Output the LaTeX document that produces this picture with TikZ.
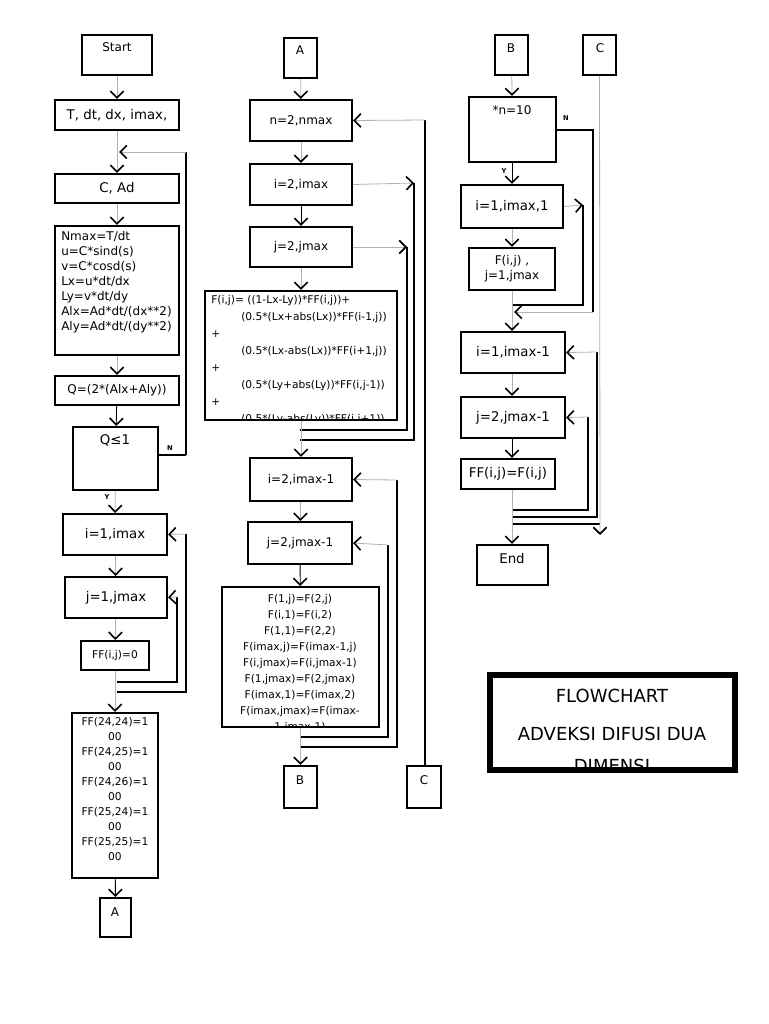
\documentclass[tikz,border=0pt]{standalone}
\usepackage{fontspec}
\setmainfont{DejaVu Sans}
\usetikzlibrary{arrows.meta,fit}
\begin{document}
\begin{tikzpicture}[x=0.75pt,y=-0.75pt,
  box/.style={draw,line width=1.6pt,inner sep=0pt},
  txt/.style={font=\fontsize{8}{11.25}\selectfont,inner sep=0pt},
  t9/.style={txt,font=\fontsize{9}{11.25}\selectfont},
  t10/.style={txt,font=\fontsize{10}{12}\selectfont},
  conn/.style={draw=gray!60,line width=0.6pt},
  ln/.style={draw=black,line width=0.8pt},
  arr/.style={conn,-{Straight Barb[length=5pt,width=10pt,line width=1.2pt,color=black]}},
  lab/.style={font=\fontsize{5}{6}\selectfont\bfseries,inner sep=0pt}]
\newcommand\bx[5]{\node[box,fit={(#2,#3)(#4,#5)}] (#1) {};}
\useasboundingbox (0,0) rectangle (768,1024);
% ---------- column 1
\bx{start}{82}{35}{152}{75} \node[t9] at (117,47) {Start};
\bx{T}{55}{100}{179}{130} \node[t10] at (T) {T, dt, dx, imax,};
\bx{C}{55}{174}{179}{203} \node[t10] at (C) {C, Ad};
\bx{N}{55}{226}{179}{355}
\node[t9,anchor=north west,align=left] at (61,231) {Nmax=T/dt\\u=C*sind(s)\\v=C*cosd(s)\\Lx=u*dt/dx\\Ly=v*dt/dy\\Alx=Ad*dt/(dx**2)\\Aly=Ad*dt/(dy**2)};
\bx{Q}{55}{376}{179}{405} \node[t9] at (Q) {Q=(2*(Alx+Aly))};
\bx{Qd}{73}{427}{158}{490} \node[t10] at (115,440) {Q≤1};
\bx{i1}{63}{514}{167}{555} \node[t10] at (i1) {i=1,imax};
\bx{j1}{65}{577}{167}{618} \node[t10] at (j1) {j=1,jmax};
\bx{ff0}{81}{641}{149}{670} \node[txt] at (ff0) {FF(i,j)=0};
\bx{ffs}{72}{713}{158}{878}
\node[txt,align=center,anchor=north] at (115,717) {FF(24,24)=1\\00\\FF(24,25)=1\\00\\FF(24,26)=1\\00\\FF(25,24)=1\\00\\FF(25,25)=1\\00};
\bx{A1}{100}{898}{131}{937} \node[t9] at (115,912) {A};
\draw[arr] (start) -- (T);
\coordinate (m1) at (117,152);
\draw[arr] (T) -- (C);
\coordinate (n1) at (186,455); \coordinate (n2) at (186,152);
\draw[ln] (Qd.east|-n1) -- (n1); \draw[ln] (n1) -- (n2);
\draw[arr] (n2) -- ([xshift=1.5pt]m1);
\node[lab] at (170,448) {N};
\draw[arr] (C) -- (N); \draw[arr] (N) -- (Q); \draw[arr,draw=black] (Q) -- (Qd);
\draw[arr] (Qd) -- (i1); \node[lab] at (107,497) {Y};
\draw[arr] (i1) -- (j1); \draw[arr] (j1) -- (ff0);
\coordinate (p1) at (177,682); \coordinate (p2) at (186,692);
\draw[conn] (ff0.south) -- (ffs.north);
\draw[ln] (117,682) -- (p1) -- (177,597); \draw[arr] (177,597) -- (j1.east);
\draw[ln] (117,692) -- (p2) -- (186,534); \draw[arr] (186,534) -- (i1.east);
\draw[arr] (ffs.south|-687,700) -- (ffs.north);
\draw[arr,draw=black] (ffs) -- (A1);
% ---------- column 2
\bx{A2}{284}{38}{317}{78} \node[t9] at (300,50) {A};
\bx{n}{250}{100}{352}{141} \node[t9] at (n) {n=2,nmax};
\bx{i2}{250}{164}{352}{205} \node[t9] at (i2) {i=2,imax};
\bx{j2}{250}{227}{352}{267} \node[t9] at (j2) {j=2,jmax};
\bx{F}{205}{291}{397}{420}
\begin{scope}
\clip (207,293) rectangle (395,418);
\node[txt,anchor=north west,align=left,font=\fontsize{8}{12.75}\selectfont] at (211,295)
 {F(i,j)= ((1-Lx-Ly))*FF(i,j))+\\\hspace*{22.5pt}(0.5*(Lx+abs(Lx))*FF(i-1,j))\\+\\\hspace*{22.5pt}(0.5*(Lx-abs(Lx))*FF(i+1,j))\\+\\\hspace*{22.5pt}(0.5*(Ly+abs(Ly))*FF(i,j-1))\\+\\\hspace*{22.5pt}(0.5*(Ly-abs(Ly))*FF(i,j+1))};
\end{scope}
\bx{i3}{250}{458}{352}{501} \node[t9] at (i3) {i=2,imax-1};
\bx{j3}{248}{522}{352}{564} \node[t9] at (j3) {j=2,jmax-1};
\bx{G}{222}{587}{379}{727}
\begin{scope}
\clip (224,589) rectangle (377,725);
\node[txt,align=center,anchor=north,font=\fontsize{8}{12}\selectfont] at (300,594)
 {F(1,j)=F(2,j)\\F(i,1)=F(i,2)\\F(1,1)=F(2,2)\\F(imax,j)=F(imax-1,j)\\F(i,jmax)=F(i,jmax-1)\\F(1,jmax)=F(2,jmax)\\F(imax,1)=F(imax,2)\\F(imax,jmax)=F(imax-\\1,jmax-1)};
\end{scope}
\bx{B2}{284}{766}{317}{808} \node[t9] at (300,780) {B};
\bx{C2}{407}{766}{441}{808} \node[t9] at (424,780) {C};
\draw[arr] (A2) -- (n); \draw[arr] (n) -- (i2); \draw[arr,draw=black] (i2) -- (j2); \draw[arr] (j2) -- (F);
\coordinate (c1) at (425,120);
\draw[ln] (C2.north-|c1) -- (c1); \draw[arr] (c1) -- (n.east);
\coordinate (q1) at (414,183); \coordinate (q2) at (414,440);
\draw[arr] (i2.east) -- (q1); \draw[ln] (q1) -- (q2) -- (300,440);
\coordinate (r1) at (407,247); \coordinate (r2) at (407,430);
\draw[arr] (j2.east) -- (r1); \draw[ln] (r1) -- (r2) -- (300,430);
\draw[arr] (F) -- (i3);
\coordinate (s1) at (397,480); \coordinate (s2) at (397,747);
\draw[ln] (300,747) -- (s2) -- (s1); \draw[arr] (s1) -- (i3.east);
\coordinate (t1) at (388,545); \coordinate (t2) at (388,737);
\draw[ln] (300,737) -- (t2) -- (t1); \draw[arr] (t1) -- (j3.east);
\draw[arr] (i3) -- (j3); \draw[arr,draw=black] (j3) -- (G); \draw[arr] (G) -- (B2);
% ---------- column 3
\bx{B3}{495}{35}{528}{75} \node[t9] at (511,48) {B};
\bx{C3}{583}{35}{616}{75} \node[t9] at (600,48) {C};
\bx{nd}{469}{97}{556}{162} \node[t9] at (512,110) {*n=10};
\bx{i4}{461}{185}{563}{228} \node[t10] at (i4) {i=1,imax,1};
\bx{Fp}{469}{248}{555}{290} \node[t9,align=center] at (Fp) {F(i,j) ,\\j=1,jmax};
\bx{i5}{461}{332}{565}{373} \node[t10] at (i5) {i=1,imax-1};
\bx{j5}{461}{397}{565}{438} \node[t10] at (j5) {j=2,jmax-1};
\bx{ff2}{461}{459}{555}{489} \node[t10] at (ff2) {FF(i,j)=F(i,j)};
\bx{E}{477}{545}{548}{585} \node[t10] at (512,559) {End};
\draw[arr] (B3) -- (nd);
\node[lab] at (566,118) {N}; \node[lab] at (504,171) {Y};
\coordinate (u1) at (593,130); \coordinate (u2) at (593,312);
\draw[ln] (nd.east|-u1) -- (u1) -- (u2); \draw[arr] (u2) -- (514,312);
\draw[arr,draw=black] (nd.south-|512,0) -- (i4.north-|512,0);
\coordinate (v1) at (583,205); \coordinate (v2) at (583,305);
\draw[arr] (i4.east) -- (v1); \draw[ln] (v1) -- (v2) -- (512,305);
\draw[arr] (i4.south-|512,0) -- (Fp.north-|512,0);
\draw[conn] (Fp.south-|512,0) -- (512,312);
\draw[arr] (512,312) -- (i5.north-|512,0);
\draw[arr] (i5.south-|512,0) -- (j5.north-|512,0);
\draw[arr,draw=black] (j5.south-|512,0) -- (ff2.north-|512,0);
\coordinate (w1) at (588,417); \coordinate (w2) at (588,510);
\draw[ln] (512,510) -- (w2) -- (w1); \draw[arr] (w1) -- (j5.east);
\coordinate (x1) at (597,352); \coordinate (x2) at (597,517);
\draw[ln] (512,517) -- (x2) -- (x1); \draw[arr] (x1) -- (i5.east);
\coordinate (y1) at (600,535);
\draw[ln] (512,524) -- (600,524);
\draw[arr] (C3.south) -- (y1);
\draw[arr] (ff2.south-|512,0) -- (E.north-|512,0);
% ---------- title
\node[draw,line width=4pt,fit={(490,675)(735,770)},inner sep=0pt] (title) {};
\begin{scope}
\clip (493,678) rectangle (732,767);
\node[font=\fontsize{13.5}{13.5}\selectfont] at (612,696) {FLOWCHART};
\node[font=\fontsize{13.5}{13.5}\selectfont] at (612,734) {ADVEKSI DIFUSI DUA};
\node[font=\fontsize{13.5}{13.5}\selectfont] at (612,766) {DIMENSI};
\end{scope}
\end{tikzpicture}
\end{document}
